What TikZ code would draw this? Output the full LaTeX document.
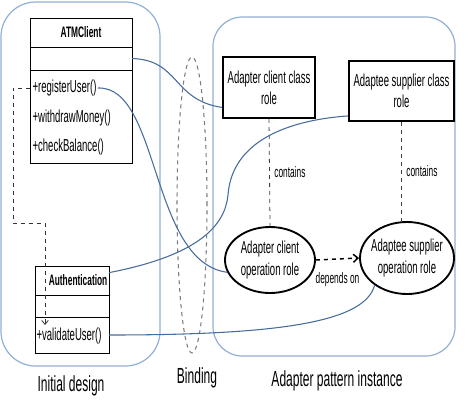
\documentclass[tikz,border=0pt]{standalone}
\usepackage{fontspec}
\setmainfont[FakeStretch=0.55]{Liberation Sans}
\usetikzlibrary{shapes.geometric,positioning,arrows.meta}

\newcommand{\rolefont}{\fontsize{13}{16}\selectfont}
\newcommand{\opfont}{\fontsize{13}{17}\selectfont}
\newcommand{\classfont}{\fontsize{11.4}{12}\selectfont\bfseries}
\newcommand{\methfont}{\fontsize{13}{14}\selectfont}
\newcommand{\notefont}{\fontsize{11.4}{12}\selectfont}
\newcommand{\captionfont}{\fontsize{16.4}{18}\selectfont}

\begin{document}
\begin{tikzpicture}[x=0.75pt, y=-0.75pt,
    frame/.style={draw=frame_blue, line width=0.9pt, rounded corners=#1, inner sep=0pt},
    classpart/.style={draw, line width=0.6pt, inner sep=0pt, outer sep=0pt, minimum width=#1},
    method/.style={font=\methfont, inner sep=1pt, anchor=west},
    rolebox/.style={draw, line width=1.4pt, align=center, font=\rolefont, inner sep=0pt},
    roleop/.style={draw, ellipse, line width=1.4pt, font=\opfont, inner sep=0pt},
    link/.style={draw=link_blue, line width=0.8pt},
    contain/.style={draw=black!75, dashed, line width=0.6pt},
    caption/.style={font=\captionfont}]
    \definecolor{frame_blue}{RGB}{146, 175, 212}
    \definecolor{link_blue}{RGB}{70, 108, 156}
    \definecolor{bind_gray}{RGB}{125, 125, 125}
    \useasboundingbox (0, 0) rectangle (474, 415);

    % the two frames and the binding
    \node[frame=26pt, minimum width=119.25pt, minimum height=273pt] (initial) at (80.5, 184) {};
    \node[frame=22pt, minimum width=181.5pt, minimum height=254.25pt] (adapter) at (334, 186.5) {};
    \node[draw=bind_gray, dashed, ellipse, line width=0.8pt, minimum width=22.5pt, minimum height=222pt] (binding) at (192, 205) {};

    \node[caption] (initial_lbl) at (71, 386) {Initial design};
    \node[caption] (binding_lbl) at (197, 378) {Binding};
    \node[caption] (adapter_lbl) at (337, 381) {Adapter pattern instance};

    % ATMClient class
    \node[classpart=76.5pt, minimum height=21.75pt, font=\classfont] (atm_name) at (81, 32.5) {ATMClient};
    \node[classpart=76.5pt, minimum height=17.25pt, below=0pt of atm_name] (atm_attr) {};
    \node[classpart=76.5pt, minimum height=69.75pt, below=0pt of atm_attr] (atm_meth) {};
    \node[method] (reg) at (31, 88) {+registerUser()};
    \node[method] (withdraw) at (31, 118) {+withdrawMoney()};
    \node[method] (check) at (31, 147) {+checkBalance()};

    % Authentication class
    \node[classpart=55.5pt, minimum height=21.75pt, font=\classfont, text width=53pt, align=right] (auth_name) at (72, 280.5) {Authentication};
    \node[classpart=55.5pt, minimum height=16.5pt, below=0pt of auth_name] (auth_attr) {};
    \node[classpart=55.5pt, minimum height=27pt, below=0pt of auth_attr] (auth_meth) {};
    \node[method] (validate) at (35, 336) {+validateUser()};

    % dependency from ATMClient to Authentication
    \coordinate (dep_end) at (45, 325);
    \draw[black!80, dashed, line width=0.6pt, -{Straight Barb[length=3pt, width=5pt]}] (atm_meth.west |- reg.west) -| (13, 223) -| (dep_end);

    % roles of the adapter pattern
    \node[rolebox, minimum width=69pt, minimum height=45.75pt] (cli_class) at (269, 87.5) {Adapter client class\\role};
    \node[rolebox, minimum width=78.75pt, minimum height=45pt] (sup_class) at (401.5, 91) {Adaptee supplier class\\role};
    \node[roleop, minimum width=67.5pt, minimum height=49.5pt] (cli_op) at (270, 260) {\makebox[0pt]{\begin{tabular}{@{}c@{}}Adapter client\\operation role\end{tabular}}};
    \node[roleop, minimum width=70.5pt, minimum height=54pt] (sup_op) at (407, 258) {\makebox[0pt]{\begin{tabular}{@{}c@{}}Adaptee supplier\\operation role\end{tabular}}};

    \draw[contain] (cli_class.south) -- (cli_op.north) node[midway, right, font=\notefont] {contains};
    \draw[contain] (sup_class.south) -- (sup_class.south |- sup_op.north) node[midway, right, font=\notefont] {contains};
    \draw[dashed, line width=1.1pt, -{Straight Barb[length=3.5pt, width=6pt]}] (cli_op.east) -- (sup_op.west) node[midway, below=6pt, font=\notefont] {depends on};

    % binding links
    \draw[link] (atm_attr.east) .. controls (180, 60) and (172, 100) .. (cli_class.203);
    \draw[link] (reg.east) .. controls (160, 86) and (150, 262) .. (cli_op.196);
    \draw[link] (auth_name.12) .. controls (200, 255) and (225, 225) .. (228, 195) .. controls (232, 140) and (290, 120) .. (sup_class.205);
    \draw[link] (auth_meth.east) .. controls (280, 335) and (365, 322) .. (sup_op.220);
\end{tikzpicture}
\end{document}
